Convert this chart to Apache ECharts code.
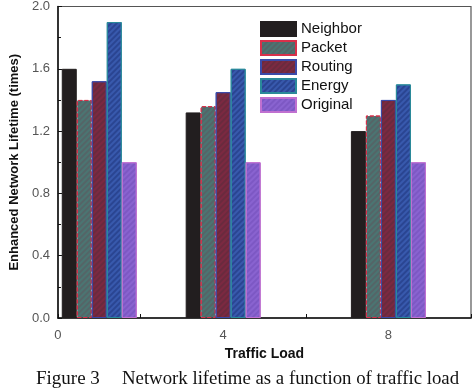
<!DOCTYPE html>
<html><head><meta charset="utf-8">
<script src="https://cdn.jsdelivr.net/npm/echarts@6/dist/echarts.min.js"></script>
<style>html,body{margin:0;padding:0;background:#fff}#c{width:474px;height:389px}</style>
</head><body><div id="c"></div>
<script>
const loads = [1, 4, 8];
const seriesNames = ['Neighbor', 'Packet', 'Routing', 'Energy', 'Original'];
const neighbor = [1.60, 1.32, 1.20];
const packet = [1.40, 1.36, 1.30];
const routing = [1.52, 1.45, 1.40];
const energy = [1.90, 1.60, 1.50];
const original = [1.00, 1.00, 1.00];
const xTickLabels = ['0', '4', '8'];

const values = [neighbor, packet, routing, energy, original];
const fills = ['#221e1f', '#4b7572', '#6a2a3e', '#2a4592', '#7d58c4'];
const borders = ['#221e1f', '#d8304a', '#3a4aa8', '#2a8a9a', '#c070d0'];
const borderTypes = ['solid', 'dashed', 'solid', 'solid', 'solid'];
const hatch = [null, 'rgba(110,50,70,0.25)', 'rgba(150,40,70,0.4)', 'rgba(70,110,200,0.5)', 'rgba(150,110,220,0.5)'];

const chart = echarts.init(document.getElementById('c'), null, {renderer: 'canvas'});
const series = seriesNames.map((n, i) => {
  const itemStyle = {
    color: fills[i],
    borderColor: borders[i],
    borderWidth: 1,
    borderType: borderTypes[i]
  };
  if (hatch[i]) {
    itemStyle.decal = {symbol: 'rect', symbolSize: 1, dashArrayX: [1, 0], dashArrayY: [1.2, 2], rotation: -Math.PI / 4, color: hatch[i]};
  }
  return {
    name: n,
    type: 'bar',
    barWidth: 15,
    barGap: '0%',
    data: loads.map((x, j) => [x, values[i][j]]),
    itemStyle: itemStyle,
    emphasis: {disabled: true}
  };
});

chart.setOption({
  animation: false,
  grid: {left: 47, right: 2, top: 6, bottom: 71, show: true, borderColor: '#555', borderWidth: 1.2},
  legend: {
    orient: 'vertical', left: 255, top: 16, itemWidth: 35, itemHeight: 14, itemGap: 3,
    data: seriesNames,
    textStyle: {fontFamily: 'Liberation Sans', fontSize: 15, lineHeight: 14, color: '#111'},
    icon: 'rect'
  },
  xAxis: {
    type: 'value', min: 0, max: 10, interval: 2,
    name: 'Traffic Load', nameLocation: 'middle', nameGap: 29,
    nameTextStyle: {fontFamily: 'Liberation Sans', fontWeight: 'bold', fontSize: 14, color: '#111'},
    axisLine: {lineStyle: {color: '#111', width: 1.5}},
    axisTick: {inside: true, length: 4, lineStyle: {color: '#111'}},
    axisLabel: {
      margin: 11, fontFamily: 'Liberation Sans', fontSize: 13, color: '#555',
      formatter: v => { const k = xTickLabels.indexOf(String(v)); return k >= 0 ? xTickLabels[k] : ''; }
    },
    splitLine: {show: false}
  },
  yAxis: {
    type: 'value', min: 0, max: 2, interval: 0.4,
    name: 'Enhanced Network Lifetime (times)', nameLocation: 'middle', nameGap: 36,
    nameTextStyle: {fontFamily: 'Liberation Sans', fontWeight: 'bold', fontSize: 13, color: '#111'},
    axisLine: {lineStyle: {color: '#111', width: 1.5}},
    axisTick: {inside: true, length: 4, lineStyle: {color: '#111'}},
    minorTick: {show: true, splitNumber: 2, length: 3, lineStyle: {color: '#111'}},
    axisLabel: {margin: 8, fontFamily: 'Liberation Sans', fontSize: 13, color: '#555', formatter: v => v.toFixed(1)},
    splitLine: {show: false}
  },
  graphic: [{
    type: 'text', left: 36, top: 370,
    style: {text: 'Figure 3', font: '19px "Liberation Serif"', fill: '#111'}
  }, {
    type: 'text', left: 122, top: 370,
    style: {text: 'Network lifetime as a function of traffic load', font: '18.8px "Liberation Serif"', fill: '#111'}
  }],
  series: series
});
</script></body></html>
